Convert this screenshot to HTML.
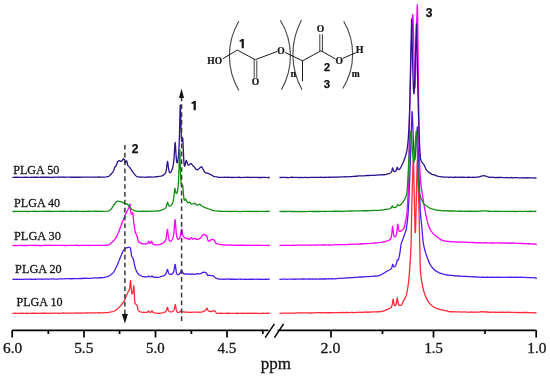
<!DOCTYPE html>
<html><head><meta charset="utf-8"><style>
html,body{margin:0;padding:0;background:#fff;width:550px;height:380px;overflow:hidden}
svg{display:block}
.lbl{font-family:"Liberation Serif",serif;fill:#161616;stroke:#161616;stroke-width:0.3}
.num{font-family:"Liberation Sans",sans-serif;font-weight:bold;fill:#111;stroke:#111;stroke-width:0.25}
.atom{font-family:"Liberation Serif",serif;font-weight:bold;fill:#111;stroke:#111;stroke-width:0.2}
</style></head><body>
<svg width="550" height="380" viewBox="0 0 550 380">
<rect width="550" height="380" fill="#fff"/>
<g fill="none" stroke-width="1.3" stroke-linejoin="round">
<path stroke="#ff2a3a" d="M12.40,313.29 14.00,313.34 15.40,313.24 16.40,313.34 17.40,313.34 17.60,313.27 18.20,313.35 19.20,313.35 21.80,313.18 22.40,313.31 23.00,313.25 23.60,313.36 24.20,313.31 24.80,313.44 25.40,313.32 25.60,313.36 26.40,313.16 27.20,313.28 27.60,313.23 28.20,313.36 29.60,313.33 30.20,313.41 30.60,313.35 31.20,313.43 32.60,313.23 33.80,313.16 34.40,313.29 35.00,313.20 35.60,313.29 35.80,313.17 38.60,313.32 41.40,313.27 42.20,313.16 42.80,313.24 43.60,313.19 44.40,313.26 44.80,313.14 45.80,313.12 47.40,313.31 48.00,313.26 49.00,313.44 49.80,313.42 50.00,313.30 50.60,313.20 51.60,313.20 52.40,313.34 53.60,313.37 54.20,313.21 56.60,313.07 58.40,313.33 59.60,313.23 60.80,313.28 62.20,313.16 62.80,312.99 63.60,313.00 63.80,312.92 64.80,313.19 65.60,313.20 66.60,313.09 67.60,313.23 67.80,313.14 68.60,313.09 70.40,313.16 72.20,313.03 74.40,313.18 75.60,312.96 76.20,312.95 76.40,313.02 77.20,313.00 77.40,313.06 80.40,312.99 81.00,313.10 81.60,313.01 81.80,313.07 83.00,313.06 84.60,312.82 85.40,312.95 86.20,312.99 88.20,312.82 89.00,312.91 89.60,312.85 90.20,312.98 91.00,313.02 92.00,312.87 93.80,312.96 94.20,312.87 95.00,312.92 95.60,312.84 97.40,312.83 98.60,312.72 102.40,312.87 104.20,312.65 105.20,312.70 107.40,312.55 108.20,312.59 109.40,312.21 111.20,311.97 111.60,311.81 112.60,311.61 113.80,311.25 115.00,310.70 117.00,309.30 119.20,307.36 120.60,305.84 122.00,304.02 123.60,301.88 124.40,300.61 125.40,298.48 126.80,294.50 127.80,292.51 128.80,290.85 129.40,289.30 129.80,287.15 130.40,280.75 130.60,280.77 131.20,288.76 131.40,290.80 131.80,293.31 132.00,293.80 132.20,293.83 132.40,293.63 132.80,292.62 133.20,290.41 133.60,286.77 133.80,285.78 134.00,287.59 134.60,299.45 134.80,301.84 135.00,302.78 135.20,303.30 135.60,303.94 136.60,304.80 137.00,305.39 138.00,309.59 138.20,310.22 138.40,310.58 139.20,311.41 140.20,311.94 141.60,312.15 142.40,312.37 143.80,312.26 144.60,312.40 145.20,312.37 145.60,312.43 146.40,312.31 147.00,312.31 147.80,311.94 148.00,311.76 148.60,310.91 148.80,310.95 149.20,311.59 149.60,312.03 150.20,312.30 150.80,312.18 151.20,311.93 151.80,310.96 152.00,310.86 152.20,311.04 152.80,312.06 153.20,312.46 154.20,312.92 156.20,313.14 157.00,313.11 158.80,313.39 159.20,313.27 160.80,313.19 162.40,312.81 163.20,312.50 163.60,312.47 165.00,312.11 165.60,311.70 166.00,311.24 166.40,310.47 167.20,307.64 167.40,307.36 167.60,307.64 168.20,309.91 168.40,310.45 168.80,311.17 169.20,311.52 170.00,311.91 170.40,311.95 171.60,311.87 173.00,311.26 173.80,310.33 174.20,309.39 174.40,308.67 175.20,304.49 175.40,304.49 176.20,309.39 176.60,310.96 177.00,311.82 177.20,312.05 177.40,312.21 178.20,312.41 179.00,312.29 179.80,311.96 180.20,311.76 181.00,311.06 181.60,311.17 182.20,311.61 182.80,311.84 183.40,311.82 184.40,312.01 184.80,312.01 185.60,312.21 187.40,312.17 188.60,312.33 189.20,312.23 191.00,312.29 192.20,312.12 194.20,312.22 194.80,312.13 195.20,312.21 196.00,312.15 198.40,312.18 199.00,312.27 200.60,312.12 201.20,312.14 202.40,311.89 204.20,311.18 205.00,310.59 205.60,309.98 206.60,308.31 206.80,308.11 207.00,308.17 207.20,308.51 207.80,309.97 208.20,310.68 208.80,311.12 209.60,311.39 210.00,311.38 210.40,311.49 211.40,311.44 212.00,311.51 214.00,310.72 214.40,310.71 214.80,310.86 216.20,312.72 216.60,313.05 218.00,313.43 220.60,313.20 222.00,313.28 226.20,313.23 226.40,313.16 227.00,313.26 228.20,313.27 228.80,313.17 230.60,313.37 231.80,313.38 232.60,313.32 234.40,313.39 235.60,313.35 237.00,313.18 238.80,313.34 239.20,313.28 241.00,313.29 241.40,313.19 243.60,313.34 244.80,313.26 245.20,313.34 245.80,313.28 246.60,313.37 247.20,313.23 248.20,313.22 248.80,313.30 250.60,313.23 251.80,313.37 255.00,313.11 256.60,313.33 257.40,313.25 258.40,313.33 259.40,313.56 262.80,313.19 263.20,313.30 263.60,313.21 264.60,313.38 265.00,313.29 265.40,313.40 265.80,313.26 266.20,313.23 266.80,313.33 267.20,313.24 268.20,313.28 268.80,313.17 269.80,313.26 M279.40,313.31 282.00,313.24 282.40,313.15 284.20,313.19 285.20,313.08 286.40,313.22 288.20,313.14 288.60,313.24 289.80,313.06 292.00,313.18 292.80,313.09 293.40,313.16 294.00,313.03 295.60,313.15 297.00,312.89 297.60,312.97 299.20,312.91 301.00,313.00 301.80,312.96 302.00,312.88 302.40,312.92 303.40,312.83 303.80,312.88 304.40,312.79 306.40,312.96 307.80,312.90 309.60,312.99 313.00,312.83 314.20,312.86 314.40,312.92 315.60,312.81 316.20,312.64 316.40,312.72 317.20,312.64 317.60,312.71 318.00,312.68 318.20,312.59 318.80,312.58 320.20,312.70 320.60,312.84 320.80,312.77 321.60,312.84 322.00,312.82 322.20,312.72 322.60,312.77 323.60,312.66 325.60,312.69 325.80,312.75 326.60,312.67 326.80,312.73 327.80,312.71 328.40,312.83 328.60,312.73 330.80,312.76 332.60,312.59 333.40,312.70 335.00,312.54 336.20,312.72 337.60,312.53 338.80,312.66 339.60,312.63 340.60,312.42 342.60,312.63 343.60,312.52 345.00,312.58 346.80,312.34 349.20,312.53 350.40,312.40 351.40,312.47 351.60,312.40 352.20,312.52 352.80,312.46 353.40,312.55 354.40,312.54 355.80,312.45 356.80,312.25 357.00,312.33 357.20,312.28 357.60,312.32 358.20,312.46 360.00,312.19 361.20,312.35 362.40,312.26 363.60,312.32 364.80,312.09 365.80,312.02 367.60,312.23 373.20,311.90 375.60,311.97 376.00,311.79 376.40,311.85 377.40,311.68 378.40,311.73 379.00,311.68 380.00,311.76 380.80,311.66 381.20,311.48 382.60,311.14 383.20,311.09 384.60,310.56 386.80,309.60 387.40,309.41 388.60,308.89 389.40,308.36 390.60,307.77 391.20,307.30 391.60,306.70 392.00,305.54 392.40,303.54 393.00,299.20 393.20,299.09 393.80,303.04 394.20,304.68 394.60,305.44 395.00,305.66 395.20,305.62 395.60,305.37 396.00,304.71 396.40,303.28 397.20,297.99 397.40,297.98 398.00,302.21 398.20,303.26 398.60,304.48 399.00,305.02 399.20,305.19 399.60,305.34 400.60,305.33 401.20,305.06 401.40,304.89 401.80,304.38 402.60,302.97 404.00,299.88 405.40,297.39 406.00,295.99 406.60,294.06 407.40,290.22 408.20,285.02 408.80,279.63 409.40,272.76 410.40,258.61 411.00,246.29 411.20,239.98 411.80,205.92 412.80,169.72 413.00,163.82 413.20,160.42 413.40,160.85 413.60,166.86 415.00,228.43 415.20,232.54 415.40,232.56 415.60,228.33 415.80,221.11 417.00,169.16 417.20,162.65 417.40,160.08 417.60,162.48 417.80,168.52 418.20,184.52 419.00,211.04 420.20,264.41 420.40,269.84 420.60,272.79 421.00,276.83 421.60,280.88 422.80,287.08 424.00,291.72 425.20,295.45 426.00,297.39 427.80,300.88 429.20,302.91 430.40,304.28 432.00,305.81 432.80,306.41 433.60,306.75 434.40,307.39 435.40,307.98 437.60,308.75 439.60,309.26 440.20,309.55 441.40,309.84 441.60,309.80 442.40,309.95 443.00,309.94 444.80,310.56 445.40,310.60 446.80,310.89 449.00,311.68 449.80,311.74 450.80,311.65 451.40,311.74 451.80,311.71 454.20,311.88 454.80,311.77 455.80,311.83 456.00,311.77 457.20,311.96 459.60,311.94 461.40,312.17 464.00,311.86 465.00,311.90 466.40,312.08 467.40,312.04 467.60,312.13 468.20,312.14 469.20,312.30 470.00,312.23 471.20,311.96 472.80,312.15 473.00,312.24 475.20,312.17 476.40,312.22 479.20,312.10 481.00,311.75 481.80,311.85 482.00,311.76 482.80,311.78 483.40,311.70 484.80,311.98 487.60,311.99 489.20,312.27 490.80,312.14 491.60,312.25 491.80,312.18 493.40,312.21 494.40,312.34 495.00,312.25 497.40,312.31 499.60,312.20 501.00,312.34 503.00,312.18 505.40,312.35 506.40,312.21 507.00,312.28 507.20,312.21 507.40,312.28 508.80,312.16 509.40,312.20 509.80,312.33 512.00,312.31 512.40,312.37 513.40,312.30 514.00,312.36 515.00,312.29 515.80,312.37 516.40,312.52 517.00,312.55 518.80,312.34 521.60,312.59 522.80,312.41 525.40,312.52 525.80,312.43 526.40,312.50 527.20,312.45 527.60,312.63 529.80,312.56 530.80,312.74 531.60,312.69 532.00,312.60 533.80,312.78 534.40,312.71 535.80,312.78 536.00,312.82 536.40,313.18"/>
<path stroke="#4a1cf0" d="M12.40,279.32 13.60,279.33 14.00,279.25 15.00,279.39 15.80,279.35 17.00,279.16 18.80,279.30 21.20,279.35 22.40,279.29 23.40,279.43 25.40,279.13 26.40,279.19 27.20,279.32 28.20,279.32 28.80,279.17 29.60,279.16 30.60,279.28 31.00,279.22 31.40,279.32 31.80,279.23 32.80,279.31 34.00,279.27 34.40,279.39 35.40,279.25 35.80,279.29 37.80,279.15 38.60,279.22 40.40,279.16 42.20,279.27 42.40,279.18 43.60,279.17 44.00,279.09 45.20,279.14 45.60,279.00 47.00,279.03 48.20,279.19 48.60,279.13 49.20,279.21 52.20,278.96 53.60,278.97 54.00,279.07 55.40,279.15 55.80,279.08 57.80,279.07 59.60,278.92 63.40,278.97 68.20,278.67 69.20,278.66 69.40,278.73 71.20,278.65 72.60,278.74 73.20,278.66 73.80,278.48 74.80,278.53 75.60,278.67 76.60,278.56 78.40,278.62 80.00,278.39 81.00,278.50 81.80,278.48 84.80,278.24 88.80,278.41 90.60,278.29 92.40,278.04 93.40,278.06 95.00,277.91 96.60,277.95 96.80,278.03 98.00,277.90 98.40,277.94 99.80,277.73 101.40,277.75 102.40,277.54 103.00,277.52 104.20,277.31 105.20,277.04 106.00,276.98 107.20,276.65 108.80,276.11 109.80,275.50 112.00,273.85 113.00,272.86 113.60,272.06 115.00,269.73 117.40,264.67 118.20,262.88 119.80,258.78 121.40,255.08 122.40,252.53 123.20,250.94 124.60,249.11 125.40,248.46 125.80,248.02 127.00,247.67 127.20,247.55 127.60,247.54 128.00,247.39 128.40,247.47 128.80,247.37 129.00,247.47 130.00,247.63 130.20,247.89 130.40,248.48 131.00,251.28 131.40,254.84 131.60,255.95 132.00,256.87 132.80,257.95 133.20,258.67 133.60,260.23 134.40,264.51 135.00,266.87 135.80,269.49 136.60,271.33 137.80,273.46 138.80,274.48 139.80,275.17 141.80,276.25 143.00,276.63 143.80,276.71 144.40,276.90 145.00,276.98 146.00,276.97 146.40,276.83 147.00,276.88 147.40,276.81 148.00,276.53 148.60,275.93 148.80,275.94 149.60,276.67 150.60,276.89 151.20,276.66 152.00,275.96 152.20,276.03 153.00,276.81 154.00,277.34 154.80,277.37 155.40,277.25 157.20,277.36 158.20,277.32 159.60,277.03 161.40,276.27 163.20,275.91 164.00,275.60 164.80,275.11 165.40,274.60 166.00,273.73 166.40,272.84 167.20,269.76 167.40,269.44 167.60,269.67 168.40,272.44 168.80,273.33 169.20,273.86 169.80,274.35 170.40,274.43 171.40,274.25 171.80,274.08 172.60,273.58 173.20,272.74 173.60,271.87 174.00,270.49 174.20,269.46 174.80,265.36 175.00,264.48 175.20,264.48 175.40,265.45 176.20,271.38 176.60,273.25 176.80,273.79 177.20,274.33 177.60,274.61 177.80,274.65 178.40,274.58 179.00,274.27 179.80,273.49 180.60,272.10 181.20,270.64 181.40,270.29 181.60,270.17 181.80,270.37 182.60,272.41 183.00,273.08 183.60,273.69 184.00,273.90 184.40,273.99 185.60,273.99 185.80,273.93 188.20,274.12 188.40,274.00 188.60,274.05 189.40,273.93 190.00,274.09 190.20,274.23 190.60,274.19 190.80,274.28 191.20,274.29 192.20,273.99 193.20,274.09 194.00,274.28 194.60,274.28 195.40,274.14 196.00,274.19 196.40,273.94 197.00,273.94 197.80,273.71 198.60,273.83 198.80,273.77 199.00,273.85 199.80,273.93 200.60,273.74 202.20,272.72 202.60,272.68 203.80,272.23 205.00,272.29 205.60,272.48 206.20,272.84 207.00,274.16 207.40,275.02 207.80,275.45 208.00,275.53 208.40,275.40 208.80,275.45 209.00,275.35 209.20,275.41 209.80,275.29 210.80,275.55 211.00,275.52 211.80,275.69 212.40,275.64 212.80,275.73 213.20,275.86 213.80,276.28 214.00,276.34 215.40,277.84 215.80,278.15 217.20,278.53 218.00,278.92 219.20,279.22 219.40,279.16 220.40,279.23 221.40,279.05 222.60,279.08 223.60,279.26 224.40,279.27 225.60,279.06 226.20,279.02 226.80,279.09 227.40,279.01 228.20,279.02 228.80,279.16 230.00,279.26 232.40,279.12 233.40,279.26 235.40,279.16 237.20,279.28 238.20,279.14 239.40,279.08 241.00,279.24 242.00,279.10 242.80,279.12 243.60,279.30 245.40,279.20 246.80,279.34 247.40,279.32 247.60,279.39 248.20,279.37 249.40,279.16 251.20,279.26 252.60,279.18 254.00,279.31 255.20,279.18 255.80,279.19 256.20,279.10 257.60,279.25 258.00,279.38 259.80,279.27 260.40,279.38 261.00,279.25 261.60,279.30 262.20,279.19 262.40,279.27 263.40,279.29 264.00,279.39 265.80,279.25 268.00,279.31 269.00,279.18 269.80,279.20 M279.40,279.39 283.00,279.15 284.20,279.22 285.00,279.16 286.80,279.28 288.00,279.16 289.20,279.12 289.40,279.18 290.80,279.21 292.00,279.09 294.00,279.23 297.00,279.14 297.80,279.03 299.40,279.07 299.80,279.14 301.00,279.12 302.80,278.96 304.40,278.99 305.20,279.15 306.20,279.19 308.80,278.94 310.20,279.00 310.80,279.11 312.60,278.97 314.60,279.05 315.00,278.97 317.20,279.13 318.20,279.11 319.40,278.97 321.60,278.98 322.80,278.88 325.00,278.99 326.80,278.76 327.20,278.90 329.00,278.74 330.40,278.89 331.60,278.76 332.80,278.77 334.00,278.94 334.60,278.88 335.60,278.63 337.80,278.48 338.40,278.36 339.80,278.35 340.00,278.43 341.60,278.38 343.60,278.10 345.40,278.07 348.00,277.70 349.00,277.78 349.40,277.73 349.80,277.82 351.40,277.53 353.20,277.59 353.40,277.49 355.00,277.29 355.20,277.35 356.60,277.28 357.40,277.37 359.80,276.94 360.20,277.01 361.40,276.99 365.60,276.61 366.20,276.61 366.60,276.69 367.20,276.62 367.80,276.67 368.40,276.56 369.00,276.60 371.00,276.29 371.80,276.45 372.80,276.42 373.80,276.23 374.20,276.25 375.00,276.02 376.00,275.97 376.40,276.04 377.20,276.04 379.60,275.37 380.80,274.92 382.00,274.26 382.40,273.96 383.00,273.72 383.80,273.16 384.20,273.00 387.20,271.03 389.00,270.24 390.40,269.45 391.20,268.68 391.60,267.94 392.00,266.85 392.60,264.43 392.80,264.31 393.40,266.04 393.80,266.67 394.20,266.75 394.60,266.71 395.20,266.20 395.80,265.32 396.40,263.85 397.20,260.26 397.40,259.87 397.60,259.91 397.80,260.12 398.00,260.14 398.20,259.93 398.60,259.06 398.80,258.42 400.00,252.46 400.80,245.99 401.20,243.76 401.60,242.39 402.60,239.95 404.60,234.21 405.20,232.70 406.00,230.07 406.40,228.19 406.80,225.69 407.60,219.22 408.40,209.08 409.00,197.12 409.80,176.81 411.80,116.41 412.00,111.86 412.20,111.62 412.80,124.65 413.40,142.96 414.20,156.63 414.40,158.71 414.60,159.85 414.80,159.85 415.00,158.63 415.20,156.49 417.20,128.10 417.40,126.98 417.60,129.17 418.20,146.48 419.20,181.39 420.20,208.94 420.80,217.32 421.80,227.04 423.00,240.86 423.40,243.56 424.00,246.71 425.00,250.79 425.80,253.39 427.40,258.04 428.60,261.11 430.00,264.14 431.20,266.21 432.00,267.25 434.00,269.45 435.00,270.38 436.60,271.44 436.80,271.48 438.00,272.15 438.40,272.28 439.20,272.80 440.40,273.29 441.40,273.47 442.80,274.05 444.40,274.41 444.60,274.39 444.80,274.51 445.80,274.64 447.00,275.07 447.20,275.02 450.20,275.36 451.20,275.40 451.80,275.32 453.40,275.59 454.00,275.77 454.40,275.71 455.60,275.98 456.20,275.97 456.60,275.85 456.80,275.91 457.00,275.82 458.40,276.01 459.20,275.98 461.00,276.32 464.00,276.34 464.40,276.26 464.80,276.37 465.20,276.32 465.80,276.37 466.00,276.47 466.40,276.43 467.20,276.55 468.00,276.45 468.20,276.54 468.80,276.54 469.60,276.72 471.00,276.68 472.00,276.84 474.00,276.72 474.80,276.88 475.40,276.88 476.20,277.07 476.60,276.98 478.40,277.12 479.00,277.07 480.20,277.13 480.60,277.22 482.80,277.26 483.40,277.20 485.20,277.32 486.20,277.19 487.60,277.23 488.00,277.31 489.00,277.27 489.40,277.35 491.20,277.22 492.20,277.30 493.40,277.25 495.60,277.32 497.20,277.25 497.40,277.18 499.20,277.34 500.20,277.22 502.20,277.36 502.60,277.29 503.60,277.40 504.20,277.29 504.80,277.32 505.40,277.17 506.60,277.10 507.80,277.27 510.60,277.19 511.00,277.28 511.60,277.25 512.40,277.35 514.20,277.17 514.80,277.28 515.40,277.25 516.00,277.37 516.80,277.23 517.40,277.29 518.00,277.23 518.80,277.36 520.20,277.21 522.20,277.40 523.40,277.29 525.40,277.37 528.00,277.64 529.40,277.60 529.60,277.54 531.40,277.70 532.20,277.63 532.60,277.71 533.40,277.68 536.00,277.89 536.20,278.24 536.40,278.97"/>
<path stroke="#ff00ff" d="M12.40,245.34 14.20,245.54 15.80,245.31 17.60,245.59 19.00,245.35 20.20,245.47 20.80,245.45 21.20,245.33 23.40,245.48 25.40,245.41 27.00,245.52 28.60,245.41 28.80,245.33 30.00,245.34 30.40,245.28 32.00,245.41 32.40,245.35 33.40,245.37 33.80,245.27 36.00,245.48 37.20,245.42 37.80,245.43 38.00,245.50 39.60,245.51 40.80,245.41 42.60,245.55 43.40,245.43 45.80,245.35 46.20,245.25 46.80,245.26 47.20,245.37 47.60,245.31 48.60,245.37 49.00,245.21 50.40,245.27 51.00,245.43 51.60,245.46 54.60,245.40 55.00,245.33 55.60,245.39 56.40,245.31 57.00,245.41 57.60,245.36 58.40,245.44 61.00,245.35 61.80,245.46 62.20,245.37 63.00,245.38 63.60,245.48 65.40,245.37 66.60,245.48 67.00,245.39 67.80,245.42 69.00,245.28 71.60,245.38 72.80,245.29 74.60,245.41 76.80,245.26 79.20,245.53 79.80,245.53 80.60,245.35 81.60,245.32 82.80,245.46 83.20,245.37 84.20,245.48 84.80,245.38 85.80,245.45 86.00,245.35 87.40,245.40 88.20,245.50 90.00,245.38 90.60,245.45 91.00,245.38 91.60,245.46 93.40,245.36 96.20,245.46 97.60,245.29 98.40,245.28 100.20,245.43 100.60,245.39 101.40,245.45 102.00,245.37 102.40,245.41 102.80,245.30 105.40,245.26 107.60,245.12 108.60,244.94 109.00,244.77 109.80,244.19 110.80,243.22 112.60,241.80 114.80,239.33 116.20,237.41 116.60,236.66 117.60,234.54 119.40,230.11 125.20,214.89 126.80,211.44 127.40,210.38 128.20,209.26 128.80,208.00 129.20,206.70 129.60,204.81 129.80,204.19 130.00,204.80 130.40,208.91 130.80,212.06 131.20,213.63 131.40,213.91 131.60,214.02 131.80,214.02 132.00,213.82 132.40,212.94 132.60,212.73 132.80,213.25 133.80,222.97 134.80,229.65 135.40,232.55 135.80,233.53 136.80,235.39 137.20,236.72 138.00,240.27 138.40,241.50 138.60,241.85 139.60,242.62 142.20,243.60 142.80,243.75 144.60,243.85 145.00,243.99 146.40,243.89 147.00,243.71 147.40,243.52 147.80,243.16 148.20,242.39 148.60,241.30 148.80,241.11 149.00,241.38 149.60,242.86 150.00,243.31 150.40,243.42 150.80,242.98 151.40,241.45 151.60,241.23 151.80,241.52 152.40,243.20 152.80,243.84 153.40,244.28 155.00,244.80 156.40,244.92 156.80,244.86 157.80,244.93 158.20,244.79 158.60,244.79 160.60,244.10 160.80,244.12 162.40,243.46 163.20,242.95 164.60,241.68 165.20,240.77 165.60,239.93 166.00,238.64 166.40,236.61 167.20,230.07 167.40,229.46 167.60,229.98 168.40,236.65 169.00,239.63 169.40,240.66 169.80,241.18 170.40,241.28 171.00,241.03 171.40,240.69 172.00,239.95 172.40,239.25 173.00,237.70 173.40,236.18 174.00,232.17 174.80,221.62 175.00,219.77 175.20,219.69 175.40,221.53 176.20,232.39 176.60,235.65 176.80,236.78 177.20,238.22 177.60,239.01 178.00,239.31 178.20,239.33 178.80,239.13 179.20,238.75 179.60,238.11 180.00,237.14 180.60,234.81 181.40,229.71 181.60,229.26 181.80,229.67 182.60,234.30 183.00,235.69 183.40,236.45 184.00,237.16 186.00,238.48 186.20,238.51 186.40,238.68 186.80,238.66 187.40,238.34 187.80,238.33 188.20,238.64 188.80,239.37 189.20,239.63 189.60,239.48 189.80,239.30 190.80,237.99 191.20,237.62 191.40,237.66 191.80,237.97 192.60,238.90 193.00,239.19 193.60,239.01 194.60,238.24 195.00,238.33 195.40,238.54 196.00,239.21 196.60,239.46 197.40,239.42 197.80,239.21 198.00,239.24 198.60,239.00 198.80,239.03 200.40,238.15 201.00,237.49 201.60,236.67 202.20,235.57 203.20,234.50 203.40,234.34 203.60,234.34 205.00,234.83 205.60,234.86 206.00,234.98 206.20,235.07 206.60,235.55 207.20,237.04 207.80,240.03 208.40,241.14 208.80,241.24 209.40,241.14 211.40,239.52 212.20,239.42 212.40,239.54 213.20,239.66 213.60,239.60 214.00,239.87 214.60,240.72 215.40,242.70 215.80,243.12 216.20,243.37 216.80,243.65 218.40,244.12 221.00,244.49 222.80,244.97 225.80,245.02 226.80,245.10 227.40,245.06 228.00,245.13 230.20,244.92 231.40,245.20 233.20,245.10 233.80,245.25 234.60,245.30 236.20,245.08 238.00,245.34 239.60,245.17 240.20,245.23 240.40,245.17 240.80,245.25 242.00,245.16 243.00,245.27 244.80,245.25 246.20,245.36 249.60,245.20 250.00,245.32 251.20,245.43 252.20,245.31 252.80,245.36 253.60,245.27 254.00,245.36 255.00,245.30 255.40,245.40 255.80,245.25 256.80,245.32 257.00,245.25 258.40,245.24 258.80,245.32 259.80,245.29 260.00,245.37 261.80,245.29 263.60,245.45 264.00,245.37 266.80,245.29 267.60,245.40 268.00,245.38 268.60,245.51 269.80,245.52 M279.40,245.40 281.80,245.42 282.80,245.31 283.40,245.35 285.80,245.27 287.80,245.45 289.80,245.29 291.60,245.36 293.40,245.22 295.40,245.28 297.60,245.13 299.60,245.21 303.40,245.07 306.60,245.14 307.60,245.04 309.20,245.22 310.20,245.14 310.60,245.23 312.40,245.07 313.60,245.15 314.80,245.12 315.40,245.01 316.40,245.07 316.80,244.98 317.20,245.06 318.20,244.88 318.60,244.94 319.00,244.86 320.40,244.95 321.20,245.11 323.60,244.92 324.40,245.01 326.20,244.87 327.80,244.86 329.00,244.99 329.80,244.85 331.80,245.07 332.40,244.89 333.20,244.80 334.20,244.83 336.00,244.68 336.60,244.68 336.80,244.77 337.00,244.71 338.20,244.73 338.60,244.64 339.40,244.60 340.80,244.70 341.80,244.63 342.80,244.67 343.80,244.59 344.00,244.64 344.60,244.55 344.80,244.62 345.00,244.54 345.60,244.59 345.80,244.53 347.20,244.53 350.00,244.27 351.20,244.41 352.00,244.40 355.00,244.14 358.40,244.10 359.20,244.00 360.80,244.02 363.00,243.77 363.40,243.84 364.40,243.75 364.80,243.81 365.40,243.66 370.40,243.43 370.80,243.40 371.60,243.17 372.60,243.07 373.20,243.11 375.00,242.95 376.00,243.02 377.00,242.86 377.80,242.62 380.80,242.33 383.80,241.80 384.40,241.81 386.20,241.16 387.20,240.98 388.40,240.60 389.80,239.73 390.20,239.32 390.80,238.48 391.20,237.43 391.40,236.62 391.80,234.06 392.40,227.27 392.60,226.17 392.80,227.08 393.20,231.45 393.60,234.47 394.00,235.94 394.40,236.52 394.80,236.76 395.40,236.57 395.80,236.01 396.20,235.02 396.40,234.30 396.80,232.12 397.00,230.52 397.60,224.38 397.80,224.14 398.60,229.74 399.00,230.88 399.40,231.33 399.60,231.45 399.80,231.45 400.60,231.16 401.80,230.24 402.60,229.78 403.00,229.43 403.60,228.72 404.00,227.91 404.20,227.30 405.00,224.16 406.20,218.40 406.80,214.38 407.20,209.80 408.40,189.91 408.80,175.25 409.60,114.25 410.20,86.96 411.20,49.96 412.60,16.20 412.80,14.64 413.00,17.16 413.60,37.72 414.60,79.89 414.80,85.72 415.00,88.02 415.20,85.11 415.40,77.90 416.60,24.96 417.00,11.58 417.20,6.61 417.40,4.68 417.60,13.64 417.80,28.58 418.40,83.83 419.20,143.90 419.40,155.96 419.60,163.09 420.00,172.55 420.60,181.23 421.20,186.63 422.60,196.42 424.60,208.41 426.00,215.59 427.00,220.08 428.40,224.93 429.80,228.65 431.00,230.78 433.00,233.40 434.40,234.86 435.60,235.80 436.40,236.25 438.20,237.69 438.60,237.92 439.40,238.61 441.00,239.68 442.00,240.18 443.20,240.63 443.60,240.59 444.00,240.77 445.00,240.97 445.40,241.18 445.80,241.21 446.40,241.38 447.40,241.44 448.60,241.36 450.00,241.67 451.40,241.74 451.80,241.70 453.80,241.87 454.60,241.77 455.80,241.95 456.00,242.05 456.20,241.99 457.60,242.15 459.60,241.93 460.20,241.99 460.60,242.11 461.00,242.06 462.20,242.16 462.60,242.09 463.20,242.21 466.60,242.20 467.40,242.35 467.80,242.32 468.40,242.48 469.20,242.46 469.60,242.53 471.00,242.33 471.60,242.45 472.20,242.43 472.80,242.56 473.60,242.46 474.20,242.50 475.80,242.84 477.20,242.65 479.00,242.82 479.40,242.75 481.40,242.74 481.60,242.83 482.20,242.82 482.40,242.89 483.20,242.87 483.40,242.78 485.60,242.70 486.80,242.86 488.80,242.85 489.20,242.94 490.00,242.89 490.60,242.99 492.00,242.93 492.60,242.98 492.80,242.92 493.80,242.99 495.60,242.81 496.80,242.92 497.20,242.84 497.80,242.92 498.00,242.87 499.20,243.02 500.80,242.90 502.20,243.05 503.00,242.98 503.20,243.05 504.00,242.97 504.80,243.07 505.20,243.01 505.80,243.07 507.40,242.97 508.60,242.98 511.00,243.24 513.40,242.98 514.20,243.15 514.60,243.12 515.20,243.22 515.40,243.14 515.80,243.22 516.20,243.15 517.20,243.31 517.80,243.30 518.00,243.39 518.40,243.28 518.60,243.37 519.80,243.31 520.20,243.36 520.40,243.29 522.20,243.51 523.00,243.45 523.80,243.53 524.80,243.76 525.80,243.59 526.40,243.58 528.20,243.76 529.20,243.72 530.60,243.96 532.20,243.80 533.60,244.00 534.00,243.96 534.60,244.07 535.00,244.04 536.00,244.17 536.20,244.48 536.40,245.11"/>
<path stroke="#2c128e" d="M12.40,177.37 14.60,177.41 15.60,177.23 16.80,177.18 17.40,177.28 18.20,177.22 19.80,177.35 23.00,177.41 25.80,177.26 28.00,177.37 29.20,177.29 30.60,177.38 32.00,177.19 33.80,177.35 34.00,177.27 36.00,177.26 37.20,177.14 39.00,177.31 40.00,177.31 40.60,177.19 42.40,177.27 43.00,177.16 44.00,177.23 45.80,177.17 52.60,177.37 53.80,177.27 54.40,177.10 54.80,177.16 55.60,177.09 57.40,177.10 59.20,177.24 60.80,177.20 61.60,177.05 62.20,177.07 62.60,177.00 63.40,177.20 64.20,177.24 65.80,177.14 66.20,177.22 67.60,177.22 68.00,177.12 69.00,177.22 71.60,177.27 75.60,177.10 77.40,177.23 79.20,177.12 80.40,177.27 81.80,177.12 82.60,177.17 83.00,177.11 84.20,177.22 86.00,177.04 86.80,177.19 88.40,177.08 89.60,177.18 90.60,177.08 92.40,177.14 92.80,177.07 93.20,177.15 95.00,177.18 95.20,177.25 95.80,177.14 97.80,177.10 98.60,177.00 99.80,177.02 100.40,177.12 103.00,177.12 104.40,177.05 106.40,176.81 108.80,176.31 109.40,175.88 109.80,175.51 112.80,172.08 113.60,170.75 114.60,167.67 116.20,165.50 117.40,162.09 117.80,161.43 118.80,160.80 119.40,160.65 119.80,160.77 120.80,161.36 121.20,161.40 121.80,160.90 122.40,160.21 123.20,158.93 123.40,158.79 123.80,158.90 124.20,159.28 124.60,159.83 124.80,160.31 125.20,162.55 125.40,162.71 125.80,162.01 126.20,161.05 126.40,160.83 126.60,160.82 126.80,161.26 127.60,164.75 128.00,165.63 128.60,166.40 130.00,167.74 132.20,171.09 134.40,174.08 136.00,175.87 136.40,176.26 137.00,176.65 139.20,177.03 140.20,177.01 141.60,177.18 143.40,177.09 145.20,177.28 146.00,177.24 146.40,177.08 147.00,177.00 149.00,177.05 150.20,176.96 152.20,177.12 152.60,177.03 153.00,177.08 154.40,176.96 154.80,176.82 156.00,176.67 157.00,176.74 157.80,176.67 158.60,176.42 160.80,176.18 162.00,175.88 163.80,174.85 164.60,174.22 165.20,173.44 165.60,172.63 166.00,171.46 166.40,169.47 167.20,162.75 167.40,161.49 167.60,161.41 167.80,162.44 168.40,167.74 169.00,170.94 169.20,171.63 169.60,172.47 169.80,172.70 170.00,172.74 170.40,172.61 170.80,172.21 171.20,171.61 172.20,169.29 172.80,167.26 173.40,164.19 174.00,158.69 175.00,142.92 175.20,142.55 175.40,144.56 176.20,157.43 176.60,161.10 176.80,162.19 177.00,162.80 177.20,162.91 177.40,162.59 177.60,161.99 178.00,159.93 178.60,154.27 179.20,143.20 179.60,129.80 180.00,111.70 180.20,105.37 180.40,105.02 181.00,126.96 181.40,137.61 181.60,140.31 181.80,141.50 182.00,141.39 182.60,137.74 182.80,138.89 183.80,160.38 184.20,164.99 184.40,165.96 184.60,166.27 184.80,166.15 185.00,165.58 185.80,161.58 186.00,160.79 186.20,160.34 186.40,160.46 186.60,160.82 187.40,163.60 187.80,164.53 188.00,164.80 188.40,165.12 188.60,165.15 189.40,164.72 190.60,163.62 191.00,163.56 191.20,163.66 191.40,163.79 193.00,165.85 194.40,167.13 196.00,169.32 196.40,169.70 197.20,169.89 197.60,169.69 199.20,168.53 201.00,166.89 201.40,166.76 201.60,166.78 202.20,167.50 203.80,170.69 204.80,172.14 205.20,172.55 205.60,172.68 205.80,172.88 206.20,173.00 206.80,173.13 207.60,173.19 208.60,173.52 209.20,173.82 209.60,174.14 210.60,174.57 211.40,175.02 212.80,175.91 213.80,176.40 214.60,176.52 215.00,176.65 217.40,176.98 218.40,177.30 220.00,177.42 220.20,177.34 221.40,177.28 222.00,177.37 222.60,177.32 223.40,177.38 224.60,177.22 225.80,177.31 226.40,177.43 228.00,177.22 228.80,177.33 229.00,177.25 229.80,177.33 230.60,177.30 232.00,177.51 234.20,177.29 236.00,177.42 238.00,177.35 238.60,177.23 239.20,177.29 239.60,177.24 240.60,177.49 241.40,177.55 242.60,177.34 244.00,177.43 244.60,177.30 245.60,177.28 246.20,177.33 247.80,177.27 248.40,177.34 248.60,177.26 249.20,177.28 251.00,177.51 251.80,177.47 252.60,177.29 253.80,177.34 254.60,177.46 256.40,177.29 258.60,177.51 260.00,177.39 261.20,177.48 262.80,177.29 263.80,177.41 265.60,177.37 265.80,177.45 267.40,177.53 268.00,177.44 269.80,177.50 M279.40,177.35 281.00,177.52 282.40,177.39 284.20,177.46 284.60,177.36 285.60,177.40 286.40,177.52 286.80,177.47 287.40,177.59 287.80,177.51 288.40,177.55 290.00,177.42 291.20,177.23 293.00,177.50 293.60,177.38 294.00,177.45 295.00,177.37 295.40,177.45 297.20,177.35 297.40,177.45 297.80,177.44 298.20,177.55 299.00,177.53 299.20,177.42 299.40,177.50 300.00,177.47 301.00,177.62 301.60,177.41 302.40,177.31 303.80,177.53 304.60,177.40 305.80,177.36 306.20,177.48 307.00,177.45 307.60,177.55 310.00,177.28 311.60,177.47 313.20,177.43 313.40,177.36 313.80,177.43 314.20,177.36 314.60,177.43 315.60,177.41 316.80,177.28 317.20,177.35 318.00,177.31 318.80,177.45 321.00,177.23 322.00,177.43 323.20,177.49 324.20,177.43 325.60,177.20 326.80,177.33 328.80,177.26 329.20,177.31 329.40,177.24 330.60,177.25 332.00,177.07 333.00,177.09 333.20,177.18 334.40,177.25 335.00,177.15 335.40,177.20 336.80,177.12 337.20,177.01 339.40,177.19 341.20,176.89 344.00,176.97 345.80,176.70 346.80,176.83 350.20,176.59 351.80,176.64 353.60,176.34 355.60,176.23 356.80,176.25 358.40,175.96 360.00,175.84 361.60,175.86 362.20,175.78 363.80,175.91 365.80,175.59 367.20,175.47 368.80,175.49 370.60,175.38 371.40,175.46 372.00,175.32 372.20,175.37 373.00,175.27 374.20,175.37 376.00,175.13 377.40,175.18 379.80,174.81 380.80,174.74 383.20,174.80 383.40,174.73 385.40,174.60 386.00,174.45 389.80,173.26 390.80,172.76 391.20,172.36 391.60,171.60 392.00,170.21 392.40,168.37 392.60,167.92 392.80,168.24 393.20,169.88 393.60,171.00 394.00,171.50 394.40,171.70 394.60,171.71 395.40,171.38 396.00,170.75 396.40,169.90 397.00,167.80 397.20,167.37 397.40,167.54 398.00,169.10 398.20,169.39 398.40,169.53 398.60,169.61 399.20,169.49 399.80,169.01 401.00,167.06 402.60,163.79 404.00,160.45 405.80,155.22 406.40,153.02 407.00,150.09 407.80,144.09 408.20,139.59 409.00,126.68 409.60,111.09 410.00,95.57 410.80,54.77 411.60,18.96 411.80,24.89 413.00,76.98 413.40,87.39 413.60,91.41 413.80,93.72 414.00,93.70 414.20,91.41 414.80,77.94 416.40,23.66 416.60,28.87 417.00,46.04 417.80,87.45 418.40,111.69 419.20,137.30 420.00,153.17 420.40,157.68 420.80,159.81 421.00,160.45 421.80,161.98 422.80,163.34 424.00,164.76 424.80,166.42 425.80,168.88 426.60,170.17 427.20,170.89 427.80,171.46 429.20,172.61 430.00,173.14 432.20,174.36 435.80,175.43 436.60,175.83 437.00,175.91 437.40,176.12 438.80,176.46 440.60,176.65 441.60,176.97 442.60,177.04 442.80,176.98 444.60,177.19 445.20,177.10 446.20,177.18 446.40,177.07 446.80,177.05 447.20,177.19 448.00,177.15 448.20,177.25 448.80,177.32 449.00,177.23 449.60,177.32 450.20,177.21 451.40,177.22 452.60,177.46 453.40,177.38 454.40,177.14 456.40,177.23 457.00,177.12 457.80,177.28 459.40,177.14 460.40,177.28 461.40,177.15 461.60,177.24 462.40,177.25 463.20,177.37 463.40,177.24 464.00,177.24 464.80,177.35 465.20,177.31 466.00,177.46 466.80,177.32 467.00,177.41 467.80,177.16 468.60,177.26 469.20,177.17 469.60,177.32 470.60,177.32 471.00,177.45 471.40,177.38 472.40,177.46 473.60,177.16 474.40,177.33 475.40,177.35 476.20,177.14 477.20,177.15 478.40,177.02 479.80,176.64 480.20,176.44 480.60,176.44 481.40,176.25 482.40,175.89 483.00,175.80 483.20,175.65 483.60,175.61 484.80,175.78 485.00,175.91 486.60,176.39 487.20,176.68 489.00,177.12 489.40,177.32 489.80,177.35 490.20,177.29 490.80,177.33 491.60,177.18 492.40,177.43 493.60,177.43 494.20,177.34 494.80,177.52 495.80,177.55 496.40,177.45 497.00,177.56 497.60,177.48 500.00,177.52 500.60,177.41 501.80,177.41 502.80,177.58 504.00,177.54 505.00,177.67 505.20,177.60 505.80,177.65 506.20,177.54 506.80,177.52 507.00,177.60 507.60,177.56 509.20,177.89 510.00,177.83 510.80,177.54 511.40,177.50 512.00,177.56 512.40,177.74 513.40,177.89 514.20,177.69 514.40,177.72 515.20,177.60 517.20,177.68 517.80,177.82 519.40,177.95 520.40,177.91 521.20,177.77 522.60,177.85 523.60,177.72 524.00,177.78 524.20,177.67 525.40,177.98 525.80,177.92 526.00,178.00 528.00,177.75 530.00,177.92 530.80,177.82 532.00,177.86 532.20,177.93 533.40,177.88 534.60,177.99 535.20,178.13 536.00,177.98 536.40,177.57"/>
<path stroke="#148e14" d="M12.40,211.37 14.20,211.51 16.00,211.30 17.40,211.34 17.80,211.42 18.00,211.36 20.00,211.44 21.40,211.31 22.20,211.40 23.00,211.35 23.40,211.44 24.20,211.38 24.40,211.47 26.40,211.50 27.20,211.43 27.80,211.51 30.60,211.46 31.00,211.35 32.20,211.47 32.80,211.45 34.20,211.21 35.60,211.35 36.00,211.49 38.00,211.31 40.80,211.40 41.40,211.31 42.80,211.41 44.20,211.26 45.20,211.39 49.00,211.20 51.80,211.51 53.40,211.36 55.20,211.45 55.80,211.34 56.00,211.38 56.60,211.31 57.60,211.43 58.40,211.43 58.80,211.31 60.20,211.23 61.20,211.40 62.60,211.34 63.40,211.22 65.60,211.38 66.60,211.33 67.00,211.43 68.00,211.36 69.40,211.46 71.20,211.23 71.80,211.37 72.80,211.44 75.80,211.25 76.00,211.32 76.20,211.25 76.60,211.36 77.60,211.44 77.80,211.36 78.20,211.40 79.00,211.29 80.60,211.28 84.20,211.51 84.60,211.41 85.60,211.42 86.80,211.29 88.20,211.24 90.60,211.46 92.40,211.36 93.00,211.22 93.80,211.19 95.00,211.27 96.00,211.19 96.20,211.28 96.60,211.24 97.60,211.35 98.00,211.27 99.60,211.38 101.60,211.25 102.80,211.44 103.40,211.44 107.20,211.13 107.60,211.03 107.80,211.07 109.40,210.53 110.60,209.80 112.00,208.00 113.40,205.54 113.80,204.93 114.40,204.30 115.00,203.37 116.40,201.89 116.60,201.90 117.60,201.15 118.00,201.10 118.20,201.27 118.60,201.39 119.00,201.31 119.20,201.48 120.40,201.65 120.60,201.73 120.80,201.95 121.40,201.92 122.40,202.31 122.80,202.27 123.40,202.91 123.80,203.11 124.60,203.77 125.00,203.98 125.20,203.95 125.60,204.16 126.40,203.79 126.80,203.71 127.40,204.05 127.60,204.26 128.20,205.37 129.40,207.15 131.60,209.07 132.20,209.47 135.00,210.79 137.20,211.33 138.20,211.47 139.20,211.41 140.40,211.48 142.00,211.23 143.00,211.27 143.40,211.21 144.20,211.28 146.60,211.18 148.40,211.35 149.80,211.15 150.40,211.16 150.80,211.26 152.60,211.14 153.20,211.22 153.80,211.09 155.00,211.03 156.00,211.14 156.60,210.98 159.20,210.81 162.20,209.89 164.60,208.77 165.20,208.35 165.60,207.95 166.00,207.30 166.40,206.28 167.40,202.33 167.60,202.26 167.80,202.69 168.60,205.27 169.00,205.90 169.20,206.07 169.40,206.14 169.80,206.13 170.40,205.86 171.40,205.00 172.00,204.20 172.60,202.97 173.00,201.76 173.40,200.05 173.80,197.43 174.60,189.50 174.80,188.43 175.00,188.56 175.80,192.75 176.20,193.57 176.40,193.58 176.60,193.46 177.00,192.82 177.20,192.20 177.40,191.50 177.80,189.29 178.20,185.76 178.40,183.16 178.80,175.20 179.60,149.82 179.80,149.73 180.60,174.27 181.00,181.59 181.40,185.25 181.60,186.21 181.80,186.57 182.00,186.51 182.40,185.35 182.60,185.10 182.80,185.95 183.60,195.79 183.80,197.72 184.00,199.05 184.20,199.79 184.40,200.21 184.60,200.28 184.80,200.14 185.40,199.12 185.60,198.96 185.80,199.21 186.40,200.65 187.00,201.78 187.20,202.10 187.80,202.65 188.00,202.74 188.60,202.61 189.40,202.03 189.60,202.02 190.00,202.44 190.60,203.44 191.20,203.92 191.60,204.09 193.00,203.92 193.80,203.61 194.40,203.15 194.60,203.17 194.80,203.27 196.40,204.97 197.60,205.20 198.40,204.90 199.40,204.18 199.80,204.10 200.40,204.51 200.60,204.83 201.20,205.42 202.20,206.24 202.60,206.50 203.20,206.73 203.80,207.12 204.40,207.22 205.00,207.58 205.80,207.77 207.20,208.30 207.60,208.52 208.40,208.75 211.80,210.21 215.00,210.94 216.80,211.21 218.60,211.18 219.80,211.27 220.60,211.21 221.60,211.28 222.00,211.39 223.20,211.41 223.80,211.32 225.60,211.45 225.80,211.38 226.40,211.41 227.20,211.30 230.00,211.48 230.40,211.40 231.20,211.50 232.40,211.44 233.00,211.29 234.80,211.41 235.20,211.32 236.20,211.40 237.40,211.34 238.60,211.48 240.80,211.54 242.20,211.34 245.40,211.29 245.60,211.38 246.20,211.40 246.60,211.32 247.60,211.37 248.00,211.25 249.20,211.30 249.80,211.41 251.40,211.32 251.80,211.39 255.20,211.32 257.00,211.48 257.40,211.39 258.20,211.45 258.80,211.37 259.20,211.43 260.60,211.42 261.60,211.29 262.00,211.38 263.00,211.40 263.20,211.47 264.40,211.40 264.80,211.49 266.00,211.50 267.40,211.26 268.20,211.29 269.20,211.50 269.80,211.47 M279.40,211.36 281.00,211.50 282.00,211.51 282.60,211.42 284.20,211.52 285.00,211.43 285.60,211.51 286.00,211.45 286.80,211.50 287.40,211.40 288.00,211.48 288.20,211.41 290.40,211.40 290.80,211.52 291.80,211.54 292.80,211.40 293.80,211.48 294.00,211.42 294.60,211.55 295.20,211.49 297.00,211.58 299.00,211.38 300.60,211.56 301.40,211.49 303.00,211.57 304.20,211.46 305.20,211.55 306.40,211.55 308.20,211.42 310.00,211.42 310.60,211.34 312.20,211.49 313.20,211.42 318.00,211.52 319.00,211.43 319.60,211.51 321.00,211.46 321.40,211.37 323.00,211.29 323.20,211.38 324.80,211.50 326.60,211.34 328.40,211.44 331.00,211.29 332.60,211.42 334.40,211.25 337.20,211.27 338.00,211.10 343.60,211.29 344.80,211.23 345.40,211.09 346.60,211.05 348.20,211.14 349.00,210.94 349.40,211.02 350.00,210.98 350.60,211.10 351.80,211.00 352.60,211.01 353.40,210.83 353.80,210.88 354.00,210.81 355.20,210.94 355.60,210.85 355.80,210.90 356.60,210.79 359.20,210.92 361.60,210.89 363.80,210.66 367.20,210.75 370.20,210.57 370.80,210.67 372.60,210.50 373.00,210.54 373.60,210.41 375.20,210.29 377.20,210.37 378.60,210.33 380.20,210.16 381.40,209.94 382.60,210.03 383.20,209.98 389.20,208.80 390.00,208.53 391.20,207.82 391.60,207.18 392.20,205.92 392.40,205.88 393.00,206.98 393.40,207.49 394.00,207.73 395.40,207.47 396.40,206.89 396.60,206.65 397.00,205.96 397.60,204.54 397.80,204.44 398.40,205.17 398.60,205.33 399.20,205.58 400.40,205.06 401.80,203.54 403.40,201.41 404.20,200.11 405.00,198.56 406.20,195.88 406.60,194.53 407.00,192.59 407.60,184.97 408.60,163.92 409.60,145.03 410.20,136.97 410.80,131.64 411.00,130.99 411.20,131.92 411.40,134.00 411.80,139.34 412.40,150.09 413.00,157.96 413.40,161.92 413.60,162.88 413.80,162.84 414.00,161.87 414.40,157.97 414.80,152.90 415.40,141.22 415.80,135.25 416.20,131.22 416.40,131.28 416.60,133.21 417.00,140.21 417.80,167.93 418.40,181.77 418.80,187.99 419.00,190.01 419.40,192.64 419.80,194.60 420.60,197.29 421.20,198.79 422.80,202.06 423.60,203.45 424.20,204.19 424.80,204.76 425.40,205.11 425.80,205.49 428.00,207.03 430.00,208.20 431.20,208.72 432.00,208.96 433.20,209.17 436.40,210.10 437.20,210.16 437.80,210.39 438.40,210.45 440.20,210.44 441.00,210.56 441.80,210.54 443.20,210.77 444.20,210.76 445.60,210.90 446.40,210.89 447.40,210.75 450.60,211.00 451.00,210.93 452.60,210.99 453.20,210.94 455.60,211.18 457.00,211.11 458.80,211.27 459.60,211.19 460.00,211.26 460.60,211.20 461.60,211.24 461.80,211.15 463.20,211.32 464.20,211.35 465.20,211.22 466.80,211.37 467.40,211.29 467.80,211.32 468.40,211.21 469.40,211.25 469.60,211.19 470.40,211.27 471.20,211.18 472.40,211.29 475.20,211.17 477.00,211.43 478.60,211.09 479.20,211.10 479.60,211.22 481.20,210.98 482.40,210.90 482.60,210.96 483.20,210.88 485.20,210.94 486.20,210.89 487.00,210.97 487.20,211.10 487.80,211.23 489.00,211.23 490.40,211.36 491.40,211.28 493.20,211.36 494.00,211.29 494.80,211.32 495.40,211.23 497.60,211.32 498.40,211.25 499.00,211.40 499.20,211.31 500.00,211.41 500.80,211.35 501.60,211.45 503.00,211.46 504.60,211.34 506.60,211.45 509.80,211.29 512.00,211.34 512.60,211.46 513.60,211.52 515.40,211.47 516.20,211.57 516.40,211.49 517.80,211.39 518.60,211.43 519.80,211.35 521.40,211.42 522.20,211.53 524.00,211.34 525.40,211.30 526.20,211.38 526.40,211.32 527.80,211.48 531.80,211.27 533.20,211.48 534.00,211.47 534.60,211.29 535.40,211.23 536.40,211.35"/>
</g>
<!-- labels -->
<g class="lbl" font-size="13">
<text x="13.2" y="174" textLength="46.1" lengthAdjust="spacingAndGlyphs">PLGA 50</text>
<text x="14" y="207.3" textLength="46.1" lengthAdjust="spacingAndGlyphs">PLGA 40</text>
<text x="14" y="240.2" textLength="46.9" lengthAdjust="spacingAndGlyphs">PLGA 30</text>
<text x="15.1" y="272.9" textLength="46.6" lengthAdjust="spacingAndGlyphs">PLGA 20</text>
<text x="16.5" y="306.2" textLength="46" lengthAdjust="spacingAndGlyphs">PLGA 10</text>
</g>
<!-- axis -->
<g stroke="#000" stroke-width="1.7" fill="none">
<path d="M12.2,330.3H268.6M277.6,330.3H536.2"/>
<path d="M12.2,330.3V337.5M84,330.3V337.5M155.5,330.3V337.5M227,330.3V337.5M331,330.3V337.5M433.5,330.3V337.5M536.2,330.3V337.5"/>
<path d="M48.3,330.3V334.1M119.6,330.3V334.1M191.4,330.3V334.1M262.8,330.3V334.1M382.5,330.3V334.1M485,330.3V334.1"/>
<path d="M265.2,337.6L274.4,323.8M274.4,337.6L283.6,323.8" stroke-width="1.5"/>
</g>
<g class="lbl" font-size="14.3" text-anchor="middle" lengthAdjust="spacingAndGlyphs">
<text x="12.6" y="352.9" textLength="19.2" lengthAdjust="spacingAndGlyphs">6.0</text>
<text x="83.8" y="352.9" textLength="19.3" lengthAdjust="spacingAndGlyphs">5.5</text>
<text x="155.3" y="352.9" textLength="18.5" lengthAdjust="spacingAndGlyphs">5.0</text>
<text x="226.9" y="352.9" textLength="18.9" lengthAdjust="spacingAndGlyphs">4.5</text>
<text x="330.5" y="352.9" textLength="19.8" lengthAdjust="spacingAndGlyphs">2.0</text>
<text x="433.7" y="352.9" textLength="18.5" lengthAdjust="spacingAndGlyphs">1.5</text>
<text x="536.9" y="352.9" textLength="19.2" lengthAdjust="spacingAndGlyphs">1.0</text>
</g>
<text class="lbl" x="260.8" y="369" font-size="16.5" textLength="30.3" lengthAdjust="spacingAndGlyphs">ppm</text>
<!-- dashed markers -->
<g stroke="#3a3a3a" stroke-width="1.5" stroke-dasharray="4.7 3.15" fill="none">
<path d="M181.6,97.6V323" stroke-dashoffset="1.1"/>
<path d="M124.9,144.9V314.2"/>
</g>
<path d="M181.5,88.6L184,97.9L179,97.9Z" fill="#111"/>
<path d="M124.9,323.6L127.9,314L121.9,314Z" fill="#111"/>
<g class="num">
<text x="188.9" y="110.3" font-size="12.3" textLength="10.8" lengthAdjust="spacingAndGlyphs" style="font-family:'NanumGothic','Liberation Sans',sans-serif">1</text>
<text x="131.7" y="152.6" font-size="12">2</text>
<text x="425.7" y="16.8" font-size="12">3</text>
</g>
<!-- structure -->
<g stroke="#4a4a4a" stroke-width="1.15" fill="none">
<path d="M238.8,21.3A68.2,68.2 0 0 0 238.8,90.4"/>
<path d="M280.3,20.3A67.8,67.8 0 0 1 281.4,89.7"/>
<path d="M301.4,20.3A72.8,72.8 0 0 0 302,89.7"/>
<path d="M343.7,21.3A64.8,64.8 0 0 1 342.8,88.5"/>
</g>
<g stroke="#1a1a1a" stroke-width="1.0" fill="none" stroke-linecap="round">
<path d="M223.4,58.4L237.3,50.1L255.3,59.7L276.8,51.6"/>
<path d="M254.2,59.6V77.4M256.8,60.9V77.4" stroke-width="0.85"/>
<path d="M285.3,52.5L302.5,60.8L321,50.8L335.2,58.8"/>
<path d="M302.5,60.8V80.8"/>
<path d="M319.8,50.6V34.6M322.4,51.6V34.6" stroke-width="0.85"/>
<path d="M343.2,58.2L355.3,52.9"/>
</g>
<g class="atom" font-size="10">
<text x="207.3" y="63.9" textLength="14.8" lengthAdjust="spacingAndGlyphs">HO</text>
<text x="255.6" y="85" text-anchor="middle" font-size="9.6">O</text>
<text x="281" y="54.2" text-anchor="middle" font-size="9.6">O</text>
<text x="320.6" y="31.9" text-anchor="middle" font-size="9.6">O</text>
<text x="339.3" y="64.1" text-anchor="middle" font-size="9.6">O</text>
<text x="359.6" y="53.3" text-anchor="middle">H</text>
<text x="293.2" y="77" text-anchor="middle" font-size="10">n</text>
<text x="355.7" y="77" text-anchor="middle" font-size="9.5">m</text>
</g>
<g class="num">
<text x="242.4" y="47.8" text-anchor="middle" font-size="11.9" textLength="10.4" lengthAdjust="spacingAndGlyphs" style="font-family:'NanumGothic','Liberation Sans',sans-serif">1</text>
<text x="327.1" y="70.5" text-anchor="middle" font-size="11">2</text>
<text x="326.9" y="87.5" text-anchor="middle" font-size="11.5">3</text>
</g>
</svg>
</body></html>
